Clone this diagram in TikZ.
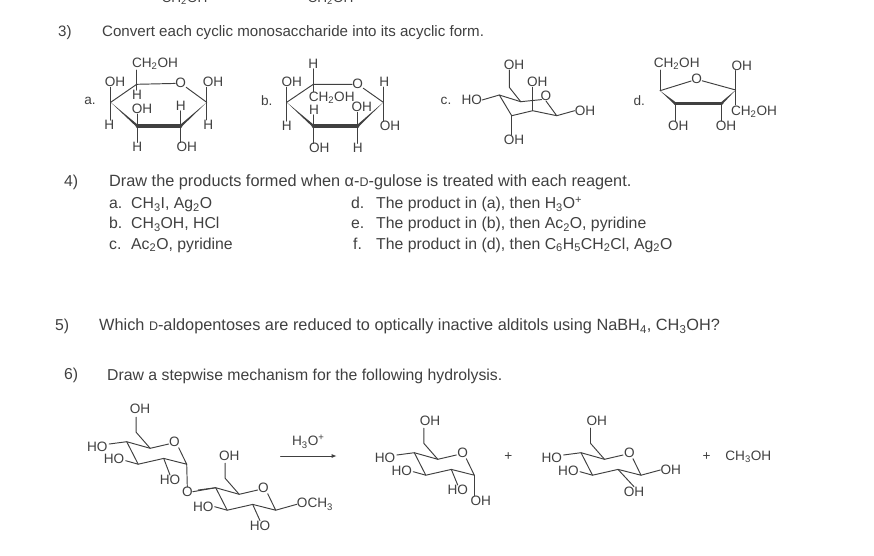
\documentclass[tikz,border=0pt]{standalone}
\usepackage{fontspec}
\setmainfont{Liberation Sans}
\usetikzlibrary{calc,arrows.meta}
\definecolor{ink}{HTML}{404040}
\newcommand{\sbs}[1]{\textsubscript{#1}}
\newcommand{\smD}{{\fontsize{12.5}{14}\selectfont D}}
\newcommand{\itm}[2]{\makebox[#1pt][l]{#2}}
\tikzset{
  txt/.style={anchor=base west,inner sep=0pt,text=ink,font=\fontsize{15.8}{18}\selectfont},
  txtb/.style={txt,font=\fontsize{15.1}{18}\selectfont},
  txtc/.style={txt,font=\fontsize{16.3}{18}\selectfont},
  chem/.style={inner sep=0pt,text=ink,font=\fontsize{13.6}{15}\selectfont},
  bond/.style={draw=ink,line width=0.95pt,line cap=round,line join=round},
  heavy/.style={draw=ink,line width=3.2pt,line cap=round},
  wedge/.style={fill=ink,draw=none},
  glu/.pic={
    \coordinate (-c4) at (0,0);
    \coordinate (-c5) at (23.5,6.6);
    \coordinate (-oa) at (42,2.3);
    \coordinate (-ob) at (52,6);
    \coordinate (-c1) at (60,22.5);
    \coordinate (-c2) at (37,16.7);
    \coordinate (-c3) at (11.5,22.5);
    \coordinate (-ch) at (9.5,-9.4);
    \coordinate (-oh6) at (9.5,-24.5);
    \coordinate (-oh4) at (-17.5,2.3);
    \coordinate (-oh3) at (-1,19);
    \draw[bond] (-oh4) -- (-c4) -- (-c5) -- (-oa);
    \draw[bond] (-ob) -- (-c1) -- (-c2) -- (-c3) -- (-c4);
    \draw[bond] (-c3) -- (-oh3);
    \draw[bond] (-c5) -- (-ch) -- (-oh6);
  }
}
\begin{document}
\begin{tikzpicture}[x=1pt,y=-1pt]
\useasboundingbox (0,0) rectangle (874,555);
\clip (0,0) rectangle (874,555);
\fill[white] (0,0) rectangle (874,555);

% clipped structures at the top edge
\node[chem] (topa) at (184.5,-1.5) {CH\sbs{2}OH};
\node[chem] (topb) at (330.5,-1.5) {CH\sbs{2}OH};

% question 3
\node[txtb] (q3) at (58,36) {3)};
\node[txtb] (q3t) at (102,36.5) {Convert each cyclic monosaccharide into its acyclic form.};

% --- a
\node[chem] (alab) at (90,100.7) {a.};
\coordinate (a1) at (110.7,102.3);
\coordinate (a2) at (136.7,84.3);
\node[chem] (aO) at (180.7,83.3) {O};
\coordinate (a4) at (206.7,102.3);
\coordinate (a5) at (180.7,126);
\coordinate (a6) at (137.3,126);
\draw[bond] (a1) -- (a2) -- (aO) -- (a4);
\fill[wedge] (a1) -- ($(a6)+(0,-1.6)$) -- ($(a6)+(0,1.6)$) -- cycle;
\fill[wedge] (a4) -- ($(a5)+(0,-1.6)$) -- ($(a5)+(0,1.6)$) -- cycle;
\draw[heavy] (a6) -- (a5);
\node[chem] (aCH) at (155,64) {CH\sbs{2}OH};
\node[chem] (aOH1) at (115,82.3) {OH};
\node[chem] (aOH2) at (213,82.3) {OH};
\node[chem] (aH1) at (109.3,125) {H};
\node[chem] (aH2) at (137,95) {H};
\node[chem] (aOH3) at (142,109) {OH};
\node[chem] (aH3) at (180.7,106) {H};
\node[chem] (aH4) at (208.3,124.7) {H};
\node[chem] (aH5) at (137.3,147.3) {H};
\node[chem] (aOH4) at (186.7,147.3) {OH};
\draw[bond] (a1) -- (aOH1.south -| a1);
\draw[bond] (a1) -- (aH1.north -| a1);
\draw[bond] (a2) -- (a2 |- aCH.south);
\draw[bond] (a2) -- (aH2.north -| a2);
\draw[bond] (a4) -- (aOH2.south -| a4);
\draw[bond] (a4) -- (aH4.north -| a4);
\draw[bond] (a5) -- (aH3.south -| a5);
\draw[bond] (a5) -- (aOH4.north -| a5);
\draw[bond] (a6) -- (aOH3.south -| a6);
\draw[bond] (a6) -- (aH5.north -| a6);

% --- b
\node[chem] (blab) at (266.7,100.7) {b.};
\coordinate (b1) at (286.7,102.3);
\coordinate (b2) at (313.3,84.3);
\node[chem] (bO) at (357.7,84.3) {O};
\coordinate (b4) at (383.3,102.3);
\coordinate (b5) at (357.7,126);
\coordinate (b6) at (313.3,126);
\draw[bond] (b1) -- (b2) -- (bO) -- (b4);
\fill[wedge] (b1) -- ($(b6)+(0,-1.6)$) -- ($(b6)+(0,1.6)$) -- cycle;
\fill[wedge] (b4) -- ($(b5)+(0,-1.6)$) -- ($(b5)+(0,1.6)$) -- cycle;
\draw[heavy] (b6) -- (b5);
\node[chem] (bHt) at (313.3,64) {H};
\node[chem] (bOH1) at (291.7,82.3) {OH};
\node[chem] (bH1) at (384.3,82.3) {H};
\node[chem] (bCH) at (331.7,97.7) {CH\sbs{2}OH};
\node[chem] (bH2) at (314,110) {H};
\node[chem] (bOH2) at (361.7,107.3) {OH};
\node[chem] (bH3) at (286.7,126) {H};
\node[chem] (bOH3) at (390,126) {OH};
\node[chem] (bOH4) at (319.3,148.3) {OH};
\node[chem] (bH4) at (357.7,148.3) {H};
\draw[bond] (b1) -- (bOH1.south -| b1);
\draw[bond] (b1) -- (bH3.north -| b1);
\draw[bond] (b2) -- (bHt.south -| b2);
\draw[bond] (b2) -- (bCH.north -| b2);
\draw[bond] (b4) -- (bH1.south -| b4);
\draw[bond] (b4) -- (bOH3.north -| b4);
\draw[bond] (b5) -- (bOH2.south -| b5);
\draw[bond] (b5) -- (bH4.north -| b5);
\draw[bond] (b6) -- (bH2.south -| b6);
\draw[bond] (b6) -- (bOH4.north -| b6);

% --- c
\node[chem] (clab) at (446,100.7) {c.};
\node[chem] (cHO) at (471.7,100) {HO};
\node[chem] (cOHt) at (514,65) {OH};
\node[chem] (cOH2) at (537.3,82.3) {OH};
\node[chem] (cO) at (546,96) {O};
\node[chem] (cOHr) at (585,110.7) {OH};
\node[chem] (cOHb) at (514,140) {OH};
\coordinate (c1) at (499.3,95);
\coordinate (c2) at (520.7,101.7);
\coordinate (c3) at (511.7,115.7);
\coordinate (c4) at (532.7,110.7);
\coordinate (c5) at (556.7,115.7);
\coordinate (cch) at (509.3,87.3);
\coordinate (cdash) at (541.5,99.6);
\draw[bond] (cHO.east) -- (c1) -- (c2) -- (cdash);
\draw[bond] (c1) -- (c3) -- (c4) -- (c5) -- (cO.south);
\draw[bond] (c5) -- (cOHr.west);
\draw[bond] (c3) -- (cOHb.north -| c3);
\draw[bond] (c2) -- (cch) -- (cOHt.south -| cch);
\draw[bond] (c4) -- (cOH2.south -| c4);

% --- d
\node[chem] (dlab) at (639.3,100.7) {d.};
\coordinate (d1) at (660,90.7);
\node[chem] (dO) at (696.7,79.3) {O};
\coordinate (d3) at (735.7,90);
\coordinate (d4) at (721.7,103.3);
\coordinate (d5) at (675,103.3);
\draw[bond] (d1) -- (dO) -- (d3);
\fill[wedge] (d1) -- ($(d5)+(0,-1.6)$) -- ($(d5)+(0,1.6)$) -- cycle;
\fill[wedge] (d3) -- ($(d4)+(0,-1.6)$) -- ($(d4)+(0,1.6)$) -- cycle;
\draw[heavy] (d5) -- (d4);
\node[chem] (dCH1) at (676.7,64) {CH\sbs{2}OH};
\node[chem] (dOH1) at (741.7,65.7) {OH};
\node[chem] (dCH2) at (754,112) {CH\sbs{2}OH};
\node[chem] (dOH2) at (678.3,126) {OH};
\node[chem] (dOH3) at (726,126) {OH};
\draw[bond] (d1) -- (d1 |- dCH1.south);
\draw[bond] (d3) -- (d3 |- dOH1.south);
\draw[bond] (d3) -- ($(d3)+(0,15)$) coordinate (dend);
\draw[bond] (d5) -- (d5 |- dOH2.north);
\draw[bond] (d4) -- (d4 |- dOH3.north);

% question 4
\node[txt] (q4) at (64,186) {4)};
\node[txtc] (q4t) at (109,186.5) {Draw the products formed when α-\smD-gulose is treated with each reagent.};
\node[txt] (q4a) at (109,208.5) {\itm{22}{a.}CH\sbs{3}I, Ag\sbs{2}O};
\node[txt] (q4b) at (109,228.5) {\itm{22}{b.}CH\sbs{3}OH, HCl};
\node[txt] (q4c) at (109,249) {\itm{22}{c.}Ac\sbs{2}O, pyridine};
\node[txt] (q4d) at (351,208.5) {\itm{25}{d.}The product in (a), then H\sbs{3}O\textsuperscript{+}};
\node[txt] (q4e) at (351,228.5) {\itm{25}{e.}The product in (b), then Ac\sbs{2}O, pyridine};
\node[txt] (q4f) at (351,249) {\itm{25}{\hspace{2pt}f.}The product in (d), then C\sbs{6}H\sbs{5}CH\sbs{2}Cl, Ag\sbs{2}O};

% question 5
\node[txt] (q5) at (55,330.5) {5)};
\node[txtc] (q5t) at (99,330.5) {Which \smD-aldopentoses are reduced to optically inactive alditols using NaBH\sbs{4}, CH\sbs{3}OH?};

% question 6
\node[txt] (q6) at (64,379.5) {6)};
\node[txt] (q6t) at (107,380) {Draw a stepwise mechanism for the following hydrolysis.};

% disaccharide
\pic (r) at (126.7,441.7) {glu};
\node[chem] at (140,409) (rOH6) {OH};
\node[chem] at (97.3,446.7) (rHO4) {HO};
\node[chem] at (114,459) (rHO3) {HO};
\node[chem] at (174.3,441.7) (rO) {O};
\node[chem] at (170,480) (rHO2) {HO};
\node[chem] at (187.3,491.7) (glyO) {O};
\draw[bond] (r-c2) -- (rHO2.north);
\draw[bond] (r-c1) -- (glyO.north);
\pic (s) at (215.7,487.7) {glu};
\node[chem] at (229.3,456) (sOH6) {OH};
\node[chem] at (203.3,506.7) (sHO3) {HO};
\node[chem] at (263.3,488.3) (sO) {O};
\node[chem] at (315,504.3) (sOMe) {OCH\sbs{3}};
\node[chem] at (260,525.7) (sHO2) {HO};
\draw[bond] (glyO.east) -- (s-c4);
\draw[bond] (s-c2) -- (sHO2.north);
\draw[bond] (s-c1) -- (sOMe.west);

% arrow
\node[chem] (reag) at (308.3,441.7) {H\sbs{3}O\textsuperscript{+}};
\coordinate (arra) at (280.7,456);
\coordinate (arrb) at (336.7,456);
\draw[bond,-{Latex[length=5pt,width=4pt]}] (arra) -- (arrb);

% product 1
\pic (p) at (414.3,452.7) {glu};
\node[chem] at (430,420.7) (pOH6) {OH};
\node[chem] at (385,458.3) (pHO4) {HO};
\node[chem] at (401.7,470.7) (pHO3) {HO};
\node[chem] at (462.7,452.7) (pO) {O};
\node[chem] at (457.7,490) (pHO2) {HO};
\node[chem] at (480.7,500.7) (pOH1) {OH};
\draw[bond] (p-c2) -- (pHO2.north);
\draw[bond] (p-c1) -- (p-c1 |- pOH1.north);
\node[chem] (plus1) at (508.3,456.7) {+};

% product 2
\pic (q) at (581,452.7) {glu};
\node[chem] at (596.7,420.7) (qOH6) {OH};
\node[chem] at (551.7,458.3) (qHO4) {HO};
\node[chem] at (568.4,470.7) (qHO3) {HO};
\node[chem] at (629.4,452.7) (qO) {O};
\node[chem] at (670.7,470) (qOH1) {OH};
\node[chem] at (634,491.7) (qOH2) {OH};
\draw[bond] (q-c1) -- (qOH1.west);
\draw[bond] (q-c2) -- (qOH2.north);
\node[chem] (plus2) at (706.7,456.7) {+};
\node[chem] (meoh) at (748.3,456.7) {CH\sbs{3}OH};
\end{tikzpicture}
\end{document}
